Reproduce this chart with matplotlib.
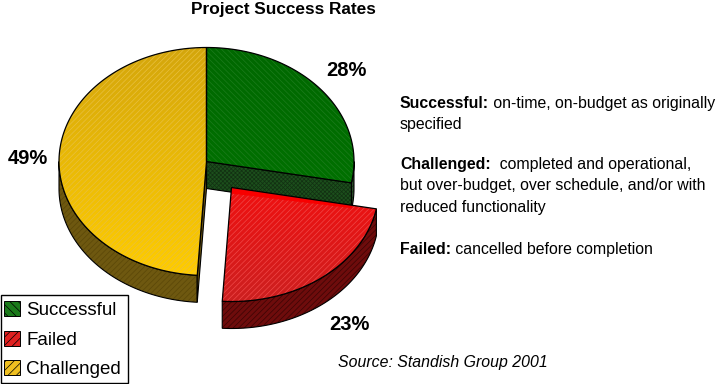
import numpy as np
import matplotlib
matplotlib.use('Agg')
import matplotlib.pyplot as plt
from matplotlib.patches import Patch, Polygon, Rectangle

plt.rcParams['font.family'] = ['Liberation Sans', 'DejaVu Sans']
plt.rcParams['hatch.linewidth'] = 0.5

# data
categories = ['Successful', 'Failed', 'Challenged']
shares = [28, 23, 49]
share_labels = ['28%', '23%', '49%']
notes_title = 'Project Success Rates'
source = 'Source: Standish Group 2001'

# pie geometry in pixels
cx, cy, rx, ry = 206.5, 161.5, 147.5, 114
depth = 27
explode = (25, 26)

fig = plt.figure(figsize=(7.16, 3.84), dpi=100)
ax = fig.add_axes([0, 0, 1, 1])
ax.set_xlim(0, 716)
ax.set_ylim(384, 0)
ax.axis('off')

bounds = np.cumsum([0] + shares) / sum(shares) * 2 * np.pi


def arc(t0, t1, ox=0, oy=0):
    t = np.linspace(t0, t1, 120)
    return np.c_[cx + ox + rx * np.sin(t), cy + oy + ry * -np.cos(t)]


def top_face(i, ox=0, oy=0):
    a = arc(bounds[i], bounds[i + 1], ox, oy)
    return np.vstack([[cx + ox, cy + oy], a])


def outer_side(t0, t1, ox=0, oy=0):
    a = arc(t0, t1, ox, oy)
    return np.vstack([a, a[::-1] + [0, depth]])


def gradient_face(xy, c0, c1, z, hatch, hcol):
    # shaded top face, lighter towards the bottom, with a fine hatch over it
    x0, y0 = xy.min(axis=0)
    x1, y1 = xy.max(axis=0)
    cmap = matplotlib.colors.LinearSegmentedColormap.from_list('f', [c0, c1])
    im = ax.imshow(np.linspace(0, 1, 64).reshape(-1, 1), cmap=cmap, aspect='auto',
                   extent=(x0, x1, y1, y0), zorder=z)
    clip = Polygon(xy, transform=ax.transData, fc='none', ec='none')
    ax.add_patch(clip)
    im.set_clip_path(clip)
    ax.add_patch(Polygon(xy, fc='none', ec=hcol, hatch=hatch, lw=0, zorder=z + 0.1))
    ax.add_patch(Polygon(xy, fc='none', ec='black', lw=0.9, zorder=z + 0.2))


def side(xy, fc, hcol, hatch, z):
    ax.add_patch(Polygon(xy, fc=fc, ec=hcol, hatch=hatch, lw=0, zorder=z))
    ax.add_patch(Polygon(xy, fc='none', ec='black', lw=0.8, zorder=z + 0.1))


# green slice: rim and cut face
end = arc(bounds[1], bounds[1])[0]
side(outer_side(np.pi / 2, bounds[1]), '#2c4a2c', '#0c3a0c', '//////', 1)
side([[cx, cy], end, end + [0, depth], [cx, cy + depth]], '#1c4f1c', '#123012', 'xxxxxxxx', 1.5)

# yellow slice: rim and thin cut face
corner = arc(bounds[2], bounds[2])[0]
side(outer_side(bounds[2], 1.5 * np.pi), '#6e5810', '#5a4708', '//////', 2)
side([[cx, cy], corner, corner + [0, depth], [cx, cy + depth]], '#6b5410', '#5a4708', '', 2.5)

gradient_face(top_face(0), '#006800', '#007000', 3, '\\\\\\\\\\\\', '#1c7c1c')
gradient_face(top_face(2), '#d4a60c', '#ffcc00', 3, '//////', '#e8c040')

# red slice, pulled out of the pie
ox, oy = explode
side(outer_side(bounds[1], bounds[2], ox, oy), '#6e0c0c', '#3a0404', '//////', 5)
gradient_face(top_face(1, ox, oy), '#f01010', '#cc2020', 6, '//////', '#f04848')

# bright strip along the red slice's upper edge
apex = np.array([cx + ox, cy + oy])
edge = apex + (end - [cx, cy]) * 0.83
ax.add_patch(Polygon([apex, edge, edge + [0, 3], apex + [-0.5, 6]], fc='#f80000', lw=0, zorder=6.15))

# percent labels
label_pos = [(346, 71), (349, 325), (28, 158)]
for txt, (lx, ly) in zip(share_labels, label_pos):
    ax.text(lx, ly, txt, fontsize=14.5, fontweight='bold', ha='center', va='center', zorder=10)

ax.text(283.5, 14, notes_title, fontsize=12.4, fontweight='bold', ha='center', va='baseline')

# explanatory notes: bold lead-in followed by regular text
notes = [
    (108, 'Successful:', ' on-time, on-budget as originally'),
    (129, '', 'specified'),
    (169, 'Challenged:', '  completed and operational,'),
    (190, '', 'but over-budget, over schedule, and/or with'),
    (212, '', 'reduced functionality'),
    (254, 'Failed:', ' cancelled before completion'),
]
fig.canvas.draw()
rend = fig.canvas.get_renderer()
for y, lead, rest in notes:
    x = 400
    if lead:
        t = ax.text(x, y, lead, fontsize=11.4, fontweight='bold', va='baseline')
        x += t.get_window_extent(rend).width
    ax.text(x, y, rest.replace(' ', '\u00a0'), fontsize=11.4, va='baseline')

ax.text(442.5, 363, source, fontsize=11.4, style='italic', ha='center', va='center')

# legend
swatches = ['#1a7a1a', '#e02020', '#f0c020']
hatches = ['\\\\\\\\', '////', '////']
handles = [Patch(fc=c, ec='black', lw=0.7, hatch=h) for c, h in zip(swatches, hatches)]
ax.add_patch(Rectangle((0.5, 294.5), 127.5, 88, fc='white', ec='black', lw=1, zorder=19))
leg = ax.legend(handles, categories, loc='lower left', bbox_to_anchor=(0, 0.005),
                bbox_transform=ax.transAxes, borderaxespad=0, fontsize=13.5,
                frameon=False, handlelength=0.85, handleheight=0.85, handletextpad=0.35,
                labelspacing=0.62, borderpad=0.2)
leg.set_zorder(20)

fig.savefig('out.png', dpi=100)
